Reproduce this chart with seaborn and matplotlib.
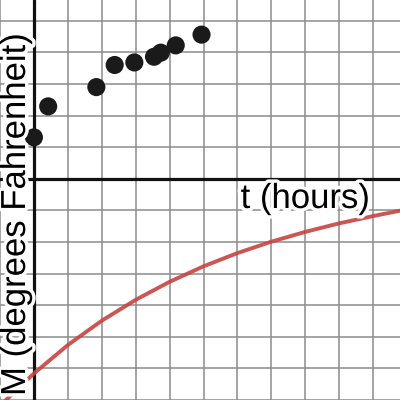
import numpy as np
import pandas as pd
import matplotlib
matplotlib.use("Agg")
import matplotlib.pyplot as plt
import matplotlib.patheffects as pe
import seaborn as sns

# measured points (t in hours, M in grid units)
t_obs = [0.0, 0.42, 1.84, 2.38, 2.96, 3.54, 3.74, 4.18, 4.94]
m_obs = [1.31, 2.29, 2.90, 3.60, 3.68, 3.86, 3.99, 4.22, 4.56]

# model curve
t_fit = [-0.97, 0.0, 1.0, 2.0, 3.0, 4.0, 5.0, 6.0, 7.0, 8.0, 9.0, 10.0, 10.79]
m_fit = [-7.15, -6.16, -5.26, -4.49, -3.83, -3.26, -2.77, -2.35, -1.99, -1.68, -1.41, -1.18, -1.01]

x_label = "t (hours)"
y_label = "M (degrees Fahrenheit)"

sns.set_style("white")
plt.rcParams["font.family"] = ["Liberation Sans", "DejaVu Sans"]

fig = plt.figure(figsize=(4, 4), dpi=100)
ax = fig.add_axes([0, 0, 1, 1])

ax.set_xlim(-0.97, 10.79)
ax.set_ylim(-6.84, 5.656)
ax.set_xticks(np.arange(-1, 11))
ax.set_yticks(np.arange(-7, 6))
ax.grid(True, color="#8c8c8c", linewidth=1.1)
ax.tick_params(length=0, labelbottom=False, labelleft=False)
for s in ax.spines.values():
    s.set_visible(False)

ax.axhline(0, color="#111111", linewidth=2.3, zorder=2)
ax.axvline(0, color="#111111", linewidth=2.3, zorder=2)

df_fit = pd.DataFrame({"t": t_fit, "M": m_fit})
sns.lineplot(data=df_fit, x="t", y="M", ax=ax, color="#c74440", alpha=0.9,
             linewidth=2.8, zorder=3)

df_obs = pd.DataFrame({"t": t_obs, "M": m_obs})
sns.scatterplot(data=df_obs, x="t", y="M", ax=ax, color="#1a1a1a", s=170,
                edgecolor="none", zorder=4)

halo = [pe.withStroke(linewidth=5, foreground="white")]
ax.text(370 / 400, 1 - 182 / 400, x_label, transform=ax.transAxes,
        ha="right", va="top", fontsize=25, color="black", path_effects=halo, zorder=5)
ax.text(25 / 400, 1 - 396 / 400, y_label, transform=ax.transAxes,
        rotation=90, rotation_mode="anchor", ha="left", va="baseline",
        fontsize=25, color="black", path_effects=halo, zorder=5)

ax.set_xlabel("")
ax.set_ylabel("")
fig.savefig("out.png", dpi=100)
